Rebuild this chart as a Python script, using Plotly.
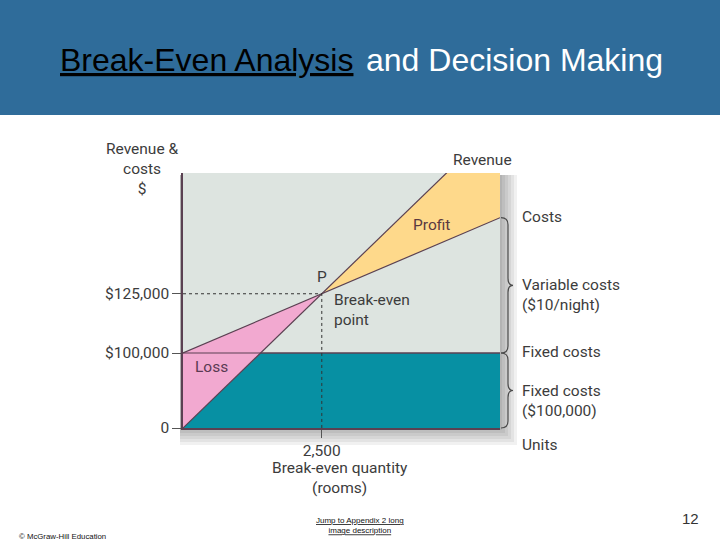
import plotly.graph_objects as go

# schematic values (y in drawn thousands, not to scale)
units = [0, 2500, 5710]
revenue = [0, 179, 409]
costs = [100, 179, 280.4]
fixed_cost = 100
y_top = 340

be_units = 2500
be_value = 179
y_tick_vals = [0, fixed_cost, be_value]
y_tick_text = ["0", "$100,000", "$125,000"]
x_tick_vals = [be_units]
x_tick_text = ["2,500"]

# plot area in pixels
L, R, T, B = 183, 220, 173, 112
W, H = 720, 540
PW, PH = W - L - R, H - T - B


def px(x):
    return (x - L) / PW


def py(y):
    return (H - B - y) / PH


TEXT = "#3c3c3c"
LINE = "#5a4152"
FONT = "Roboto"

fig = go.Figure()

# fixed cost band
fig.add_trace(go.Scatter(x=[units[0], units[-1]], y=[fixed_cost, fixed_cost],
                         mode="lines", line=dict(color=LINE, width=1.2),
                         fill="tozeroy", fillcolor="#0790a3", hoverinfo="skip"))
# loss triangle
fig.add_trace(go.Scatter(x=[units[0], units[0], be_units, units[0]],
                         y=[revenue[0], costs[0], be_value, revenue[0]],
                         mode="lines", line=dict(width=0),
                         fill="toself", fillcolor="#f2a9d0", hoverinfo="skip"))
# profit wedge
fig.add_trace(go.Scatter(x=units[1:], y=costs[1:], mode="lines",
                         line=dict(width=0), hoverinfo="skip"))
fig.add_trace(go.Scatter(x=units[1:], y=revenue[1:], mode="lines",
                         line=dict(width=0), fill="tonexty",
                         fillcolor="#fed98b", hoverinfo="skip"))
# fixed cost line again over the pink
fig.add_trace(go.Scatter(x=[units[0], units[-1]], y=[fixed_cost, fixed_cost],
                         mode="lines", line=dict(color=LINE, width=1.2), hoverinfo="skip"))
# revenue and cost lines
fig.add_trace(go.Scatter(x=units, y=revenue, mode="lines",
                         line=dict(color=LINE, width=1.2), hoverinfo="skip"))
fig.add_trace(go.Scatter(x=units, y=costs, mode="lines",
                         line=dict(color=LINE, width=1.2), hoverinfo="skip"))
# dotted guides to the break-even point
fig.add_trace(go.Scatter(x=[0, be_units, be_units], y=[be_value, be_value, 0],
                         mode="lines", line=dict(color="#333333", width=1, dash="dot"),
                         hoverinfo="skip"))

shapes = []
# soft shadow right and below the drawing
for i in range(6):
    d = 2 + 3 * i
    shapes.append(dict(type="rect", xref="paper", yref="paper", layer="below",
                       x0=px(L - 3), x1=px(W - R + d), y0=py(H - B + d), y1=py(T + 2),
                       line=dict(width=0), fillcolor="rgba(0,0,0,0.055)"))
shapes.append(dict(type="rect", xref="paper", yref="paper", layer="below",
                   x0=0, x1=1, y0=0, y1=1, line=dict(width=0), fillcolor="#dde4e0"))
# header band
shapes.append(dict(type="rect", xref="paper", yref="paper", layer="below",
                   x0=px(0), x1=px(W), y0=py(115), y1=py(0),
                   line=dict(width=0), fillcolor="#2f6c9a"))


def brace(v0, v1):
    # curly brace to the right of the plot between two data levels
    y0 = v0 / y_top
    y1 = v1 / y_top
    ym = (y0 + y1) / 2
    x0 = 1 + 1 / PW
    xw = 1 + 8 / PW
    xt = 1 + 13 / PW
    r = 7 / PH
    return ("M %f,%f Q %f,%f %f,%f L %f,%f Q %f,%f %f,%f Q %f,%f %f,%f L %f,%f Q %f,%f %f,%f" % (
        x0, y1, xw, y1, xw, y1 - r, xw, ym + r, xw, ym, xt, ym,
        xw, ym, xw, ym - r, xw, y0 + r, xw, y0, x0, y0))


for lo, hi in [(fixed_cost, costs[-1]), (0, fixed_cost)]:
    shapes.append(dict(type="path", xref="paper", yref="paper", path=brace(lo, hi),
                       line=dict(color="#4a4a4a", width=1.2)))

f = dict(family=FONT, size=15.5, color=TEXT)
ann = []


def note(text, x, y, xa="center", font=f, ref="paper", align="center"):
    ann.append(dict(text=text, x=x, y=y, xref=ref, yref=ref, xanchor=xa,
                    yanchor="middle", showarrow=False, font=font, align=align))


note("Revenue &amp;<br>costs<br>$", px(142), py(169))
note("Revenue", px(482), py(160))
note("P", be_units, 202, ref="x")
note("Break-even<br>point", 2690, 157, xa="left", ref="x", align="left")
note("Loss", 509, 82, ref="x", font=dict(family=FONT, size=15.5, color="#5a3a52"))
note("Profit", 4468, 271, ref="x", font=dict(family=FONT, size=15.5, color="#5a3a40"))
note("Costs", px(520), py(217), xa="left")
note("Variable costs<br>($10/night)", px(520), py(295), xa="left", align="left")
note("Fixed costs", px(520), py(352), xa="left")
note("Fixed costs<br>($100,000)", px(520), py(401), xa="left", align="left")
note("Units", px(520), py(445), xa="left")
note("Break-even quantity<br>(rooms)", px(340), py(478))
for a in ann:
    if a["xref"] == "x":
        a["yref"] = "y"

title_font = dict(family="Liberation Sans", size=32)
ann.append(dict(text="Break-Even Analysis", x=px(355), y=py(60), xref="paper", yref="paper",
                xanchor="right", yanchor="middle", showarrow=False,
                font=dict(title_font, color="#000000", lineposition="under")))
ann.append(dict(text="and Decision Making", x=px(364), y=py(60), xref="paper", yref="paper",
                xanchor="left", yanchor="middle", showarrow=False,
                font=dict(title_font, color="#ffffff")))
ann.append(dict(text="© McGraw-Hill Education", x=px(17), y=py(536), xref="paper", yref="paper",
                xanchor="left", yanchor="middle", showarrow=False,
                font=dict(family="Liberation Sans", size=7.8, color="#111111")))
ann.append(dict(text="Jump to Appendix 2 long<br>image description", x=px(360), y=py(525),
                xref="paper", yref="paper", xanchor="center", yanchor="middle", showarrow=False,
                font=dict(family="Liberation Sans", size=8, color="#111111", lineposition="under")))
ann.append(dict(text="12", x=px(690), y=py(518), xref="paper", yref="paper",
                xanchor="center", yanchor="middle", showarrow=False,
                font=dict(family="Liberation Sans", size=15, color="#333333")))

fig.update_layout(
    width=W, height=H,
    margin=dict(l=L, r=R, t=T, b=B),
    paper_bgcolor="#ffffff",
    plot_bgcolor="rgba(0,0,0,0)",
    showlegend=False,
    shapes=shapes,
    annotations=ann,
    xaxis=dict(range=[units[0], units[-1]], showgrid=False, zeroline=False,
               showline=True, linecolor=LINE, linewidth=1.5,
               tickvals=x_tick_vals, ticktext=x_tick_text, ticks="outside",
               ticklen=8, tickcolor="#555555", tickfont=f, fixedrange=True),
    yaxis=dict(range=[0, y_top], showgrid=False, zeroline=False,
               showline=True, linecolor=LINE, linewidth=1.5,
               tickvals=y_tick_vals, ticktext=y_tick_text, ticks="outside",
               ticklen=9, tickcolor="#555555", tickfont=f, fixedrange=True),
)

# page has a default body margin; drop it so the slide fills the window
fig.write_html("out.html", config={"displayModeBar": False},
               post_script="document.body.style.margin='0';")
